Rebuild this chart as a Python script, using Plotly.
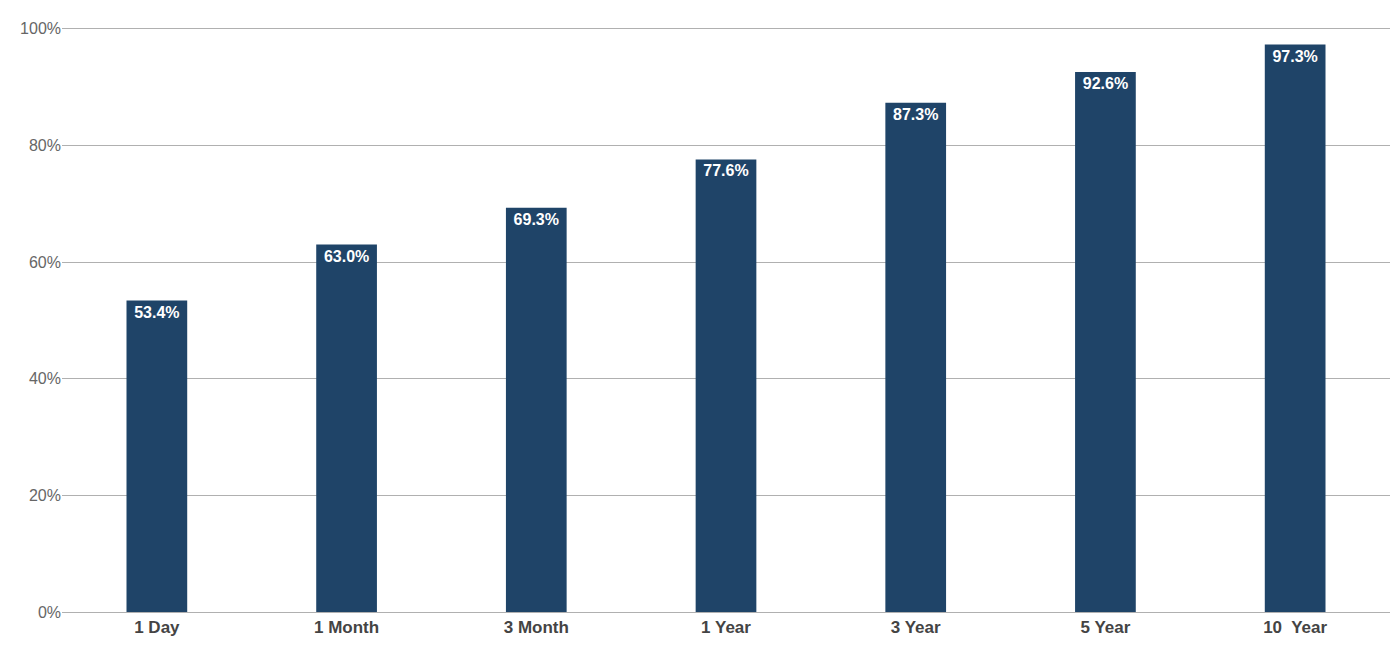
import plotly.graph_objects as go

categories = ["1 Day", "1 Month", "3 Month", "1 Year", "3 Year", "5 Year", "10  Year"]
values = [53.4, 63.0, 69.3, 77.6, 87.3, 92.6, 97.3]
labels = ["53.4%", "63.0%", "69.3%", "77.6%", "87.3%", "92.6%", "97.3%"]
tickvals = [0, 20, 40, 60, 80, 100]
ticktext = ["0%", "20%", "40%", "60%", "80%", "100%"]

font = "Liberation Sans Narrow, Arial Narrow, Liberation Sans, sans-serif"

fig = go.Figure(go.Bar(
    x=categories, y=values, text=labels, textposition="inside",
    insidetextanchor="end", width=0.32,
    marker=dict(color="#1f4468", line=dict(width=0)),
    textfont=dict(color="white", size=16, family=font, weight="bold"),
))
fig.update_layout(
    width=1400, height=666, plot_bgcolor="white", paper_bgcolor="white",
    margin=dict(l=52, r=18, t=14, b=62), showlegend=False,
    font=dict(family=font, color="#555555"),
    uniformtext=dict(mode="show", minsize=16),
)
fig.update_yaxes(range=[0, 100.3], tickvals=tickvals, ticktext=ticktext,
                 showgrid=True, gridcolor="#b0b0b0", gridwidth=1,
                 tickfont=dict(size=16, color="#666666"), zeroline=False,
                 showline=False, ticks="", ticklen=0)
fig.update_xaxes(showline=True, linecolor="#b0b0b0", ticks="",
                 tickfont=dict(size=17, color="#444444", weight="bold"))
fig.write_html("out.html")
